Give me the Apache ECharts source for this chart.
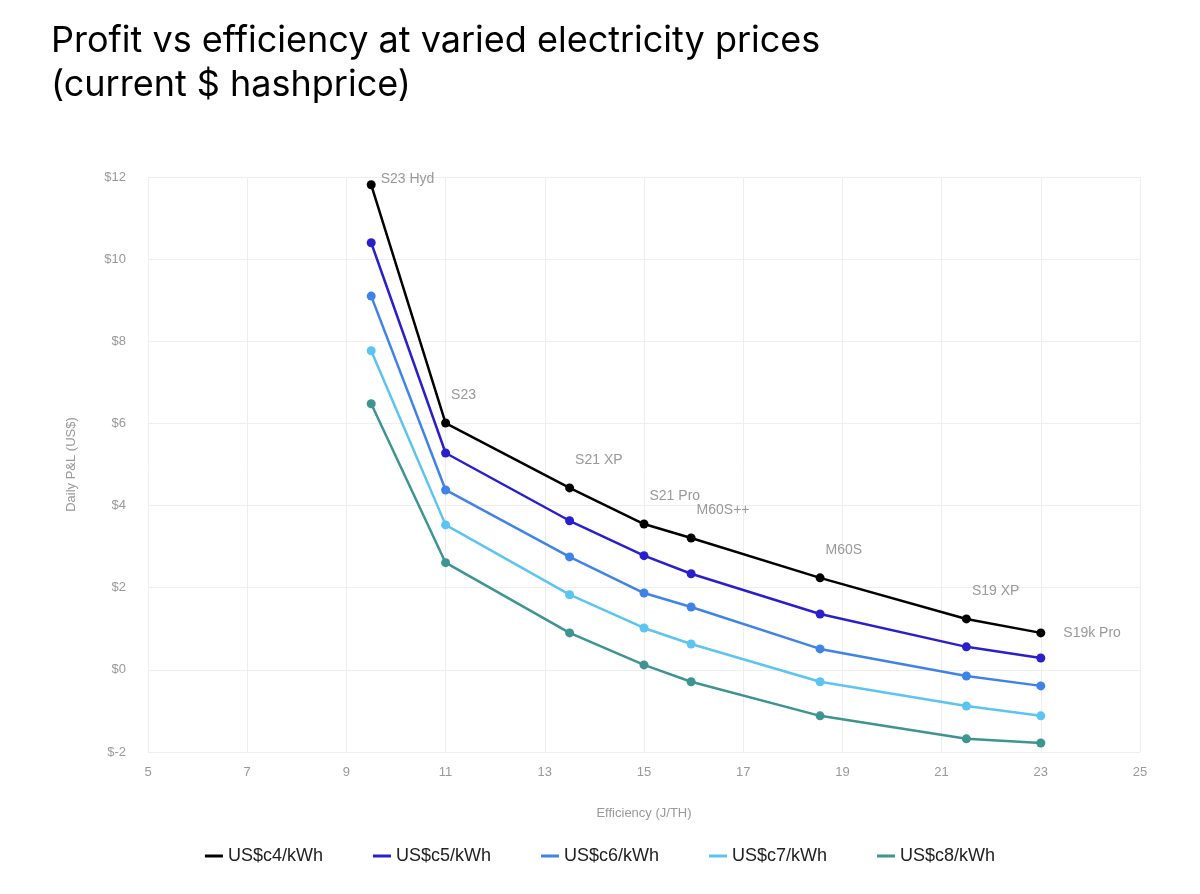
<!DOCTYPE html>
<html><head><meta charset="utf-8">
<script src="https://cdn.jsdelivr.net/npm/echarts@6/dist/echarts.min.js"></script>
<style>body{margin:0;background:#fff}#c{width:1200px;height:894px}</style>
</head><body><div id="c"></div>
<script>
var efficiency = [9.5, 11, 13.5, 15, 15.95, 18.55, 21.5, 23];
var models = ['S23 Hyd', 'S23', 'S21 XP', 'S21 Pro', 'M60S++', 'M60S', 'S19 XP', 'S19k Pro'];
var c4 = [11.81, 6.01, 4.43, 3.55, 3.21, 2.24, 1.24, 0.9];
var c5 = [10.4, 5.28, 3.63, 2.78, 2.34, 1.36, 0.56, 0.29];
var c6 = [9.1, 4.38, 2.75, 1.87, 1.53, 0.51, -0.15, -0.39];
var c7 = [7.77, 3.53, 1.83, 1.02, 0.63, -0.29, -0.88, -1.12];
var c8 = [6.48, 2.61, 0.9, 0.12, -0.29, -1.12, -1.68, -1.78];
var names = ['US$c4/kWh', 'US$c5/kWh', 'US$c6/kWh', 'US$c7/kWh', 'US$c8/kWh'];
var colors = ['#000000', '#2a1fcc', '#3f83e8', '#5bc4f0', '#3d9490'];

var myChart = echarts.init(document.getElementById('c'));
function pts(arr, withLabels) {
  return arr.map(function (v, i) {
    var d = { value: [efficiency[i], v] };
    if (withLabels) {
      var pos = [10, -30];
      if (i === 0) pos = [14, -8];
      if (i === 7) pos = 'right';
      d.label = {
        show: true, formatter: models[i], color: '#999', fontSize: 14,
        position: pos, distance: 18
      };
    }
    return d;
  });
}
var option = {
  backgroundColor: '#fff',
  title: {
    text: 'Profit vs efficiency at varied electricity prices\n(current $ hashprice)',
    left: 46, top: 14,
    textStyle: { color: '#000', fontSize: 36, fontWeight: 'normal', lineHeight: 44, fontFamily: 'Inter' }
  },
  color: colors,
  legend: {
    bottom: 24, left: 'center', itemGap: 50, icon: 'rect', itemWidth: 18, itemHeight: 3,
    textStyle: { fontSize: 18, color: '#222' },
    data: names
  },
  grid: { left: 148, right: 60, top: 177, bottom: 142 },
  xAxis: {
    type: 'value', min: 5, max: 25, interval: 2,
    name: 'Efficiency (J/TH)', nameLocation: 'middle', nameGap: 55,
    nameTextStyle: { color: '#999', fontSize: 13 },
    axisLine: { show: false }, axisTick: { show: false },
    axisLabel: { color: '#999', fontSize: 13, margin: 14 },
    splitLine: { lineStyle: { color: '#eee' } }
  },
  yAxis: {
    type: 'value', min: -2, max: 12, interval: 2,
    name: 'Daily P&L (US$)', nameLocation: 'middle', nameGap: 70,
    nameTextStyle: { color: '#999', fontSize: 13 },
    axisLine: { show: false }, axisTick: { show: false },
    axisLabel: { color: '#999', fontSize: 13, margin: 22, formatter: function (v) { return '$' + v; } },
    splitLine: { lineStyle: { color: '#eee' } }
  },
  series: [c4, c5, c6, c7, c8].map(function (arr, k) {
    return {
      name: names[k], type: 'line', data: pts(arr, k === 0),
      symbol: 'circle', symbolSize: 9, lineStyle: { width: 2.5 }
    };
  })
};
myChart.setOption(option);
</script></body></html>
